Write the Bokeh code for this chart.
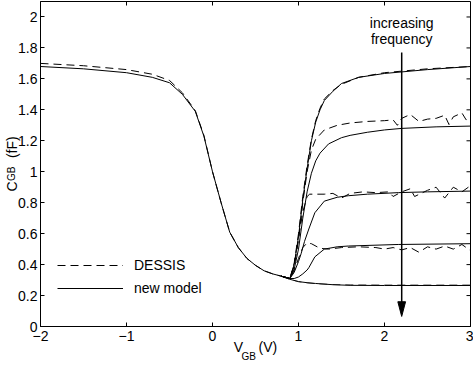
import math
from bokeh.plotting import figure
from bokeh.models import (Legend, LegendItem, Label, Title, FixedTicker,
                          NumeralTickFormatter, Range1d)
from bokeh.embed import file_html
from bokeh.resources import INLINE

# ---------------- data ----------------
# lowest frequency curve
lf_x = [-2.0, -1.5, -1.0, -0.7, -0.5, -0.35, -0.2, -0.1, 0.0, 0.1, 0.2, 0.3, 0.4, 0.5,
        0.6, 0.7, 0.8, 0.9, 0.95, 1.0, 1.05, 1.1, 1.15, 1.2, 1.25, 1.3, 1.4, 1.5, 1.7,
        2.0, 2.5, 3.0]
lf_model = [1.68, 1.665, 1.64, 1.61, 1.575, 1.50, 1.39, 1.23, 1.0, 0.80, 0.61, 0.51, 0.44,
            0.395, 0.36, 0.34, 0.325, 0.31, 0.40, 0.58, 0.82, 1.02, 1.20, 1.32, 1.40, 1.46,
            1.52, 1.57, 1.61, 1.635, 1.66, 1.68]
lf_dessis = [1.70, 1.685, 1.66, 1.63, 1.59, 1.51, 1.395, 1.235, 1.0, 0.80, 0.61, 0.51, 0.44,
             0.395, 0.36, 0.34, 0.325, 0.31, 0.41, 0.60, 0.84, 1.04, 1.21, 1.33, 1.41, 1.47,
             1.525, 1.565, 1.61, 1.64, 1.665, 1.68]

# second curve
c2_x = [0.8, 0.9, 0.95, 1.0, 1.05, 1.1, 1.15, 1.2, 1.25, 1.35, 1.5, 1.6, 1.8, 2.0, 2.2,
        2.6, 3.0]
c2_model = [0.325, 0.31, 0.37, 0.50, 0.70, 0.87, 0.99, 1.07, 1.12, 1.18, 1.22, 1.235, 1.255,
            1.27, 1.28, 1.29, 1.295]
c2d_x = [0.8, 0.9, 0.95, 1.0, 1.05, 1.1, 1.15, 1.2, 1.3, 1.45, 1.6, 1.8, 2.0, 2.1, 2.15,
         2.2, 2.3, 2.4, 2.5, 2.6, 2.7, 2.75, 2.8, 2.9, 2.95, 3.0]
c2_dessis = [0.325, 0.31, 0.39, 0.56, 0.80, 1.00, 1.14, 1.21, 1.27, 1.30, 1.315, 1.325, 1.33,
             1.335, 1.30, 1.345, 1.37, 1.325, 1.34, 1.345, 1.365, 1.305, 1.355, 1.38, 1.335,
             1.355]

# third curve
c3_x = [0.8, 0.9, 0.95, 1.0, 1.03, 1.07, 1.12, 1.19, 1.3, 1.45, 1.58, 1.8, 2.16, 2.5, 3.0]
c3_model = [0.325, 0.31, 0.35, 0.42, 0.47, 0.55, 0.63, 0.735, 0.81, 0.835, 0.845, 0.855,
            0.865, 0.87, 0.875]
c3d_x = [0.8, 0.9, 0.95, 1.0, 1.05, 1.1, 1.13, 1.3, 1.4, 1.5, 1.6, 1.75, 1.9, 2.05, 2.1,
         2.2, 2.3, 2.35, 2.5, 2.6, 2.7, 2.8, 2.9, 3.0]
c3_dessis = [0.325, 0.31, 0.40, 0.57, 0.74, 0.84, 0.855, 0.855, 0.86, 0.83, 0.86, 0.87,
             0.865, 0.87, 0.84, 0.87, 0.89, 0.84, 0.88, 0.90, 0.83, 0.90, 0.87, 0.91]

# fourth curve
c4_x = [0.8, 0.9, 0.95, 1.0, 1.05, 1.1, 1.12, 1.19, 1.3, 1.45, 1.58, 2.16, 3.0]
c4_model = [0.325, 0.31, 0.31, 0.32, 0.34, 0.365, 0.38, 0.45, 0.50, 0.515, 0.52, 0.53, 0.535]
c4d_x = [0.8, 0.9, 0.95, 1.0, 1.05, 1.1, 1.15, 1.25, 1.35, 1.5, 1.7, 1.9, 2.0, 2.1, 2.2,
         2.3, 2.4, 2.5, 2.6, 2.7, 2.8, 2.9, 3.0]
c4_dessis = [0.325, 0.31, 0.36, 0.44, 0.51, 0.54, 0.535, 0.505, 0.50, 0.51, 0.515, 0.51,
             0.50, 0.51, 0.495, 0.51, 0.48, 0.515, 0.50, 0.52, 0.50, 0.53, 0.49]

# highest frequency curve
c5_x = [0.8, 0.9, 1.0, 1.1, 1.2, 1.4, 1.6, 2.0, 3.0]
c5_model = [0.325, 0.305, 0.29, 0.283, 0.278, 0.27, 0.266, 0.265, 0.265]
c5_dessis = [0.325, 0.305, 0.29, 0.282, 0.277, 0.271, 0.269, 0.268, 0.268]

x_ticks = [-2, -1, 0, 1, 2, 3]
y_ticks = [0, 0.2, 0.4, 0.6, 0.8, 1, 1.2, 1.4, 1.6, 1.8, 2]
X_MIN, X_MAX = -2, 3
Y_MIN, Y_MAX = 0, 2.1

ARROW_X = 2.2
ARROW_TOP = 1.77
ARROW_TIP = 0.065

FONT = "Liberation Sans"
NB = "\u00a0"

# ---------------- figure ----------------
p = figure(frame_width=430, frame_height=325, output_backend="svg", toolbar_location=None,
           x_range=Range1d(X_MIN, X_MAX), y_range=Range1d(Y_MIN, Y_MAX),
           min_border_left=40, min_border_right=3, min_border_top=1, min_border_bottom=37,
           background_fill_color="white", border_fill_color="white")
p.grid.visible = False
p.outline_line_color = "black"
p.outline_line_width = 1

for ax in list(p.xaxis) + list(p.yaxis):
    ax.major_tick_in = 4
    ax.major_tick_out = 0
    ax.minor_tick_in = 0
    ax.minor_tick_out = 0
    ax.axis_line_color = "black"
    ax.major_tick_line_color = "black"
    ax.major_label_text_font = FONT
    ax.major_label_text_font_size = "14px"
    ax.major_label_text_color = "black"
    ax.axis_label_text_font = FONT
    ax.axis_label_text_font_style = "normal"
    ax.axis_label_text_color = "black"

p.xaxis.ticker = FixedTicker(ticks=x_ticks)
p.xaxis.major_label_standoff = 4
p.xaxis.major_label_overrides = {-2: "\u22122", -1: "\u22121"}
p.xaxis.axis_label = "V" + NB * 4 + "(V)"
p.xaxis.axis_label_text_font_size = "14px"
p.xaxis.axis_label_standoff = -5

p.yaxis.ticker = FixedTicker(ticks=y_ticks)
p.yaxis.major_label_standoff = 3
p.yaxis.formatter = NumeralTickFormatter(format="0.[0]")
p.yaxis.axis_label = "GB" + NB * 7
p.yaxis.axis_label_text_font_size = "10px"
p.yaxis.axis_label_standoff = -2

# subscript of the x label and main part of the y label
p.add_layout(Title(text="GB", align="left", offset=201, vertical_align="top", standoff=-14,
                   text_font=FONT, text_font_size="10px", text_font_style="normal",
                   text_color="black"), "below")
p.add_layout(Title(text="C" + NB * 6 + "(fF)", align="left", offset=135,
                   vertical_align="bottom", standoff=-33, text_font=FONT,
                   text_font_size="14px", text_font_style="normal", text_color="black"),
             "left")

# inner ticks on the top and right edges
p.ray(x=[X_MAX] * len(y_ticks), y=y_ticks, length=4, length_units="screen",
      angle=math.pi, line_color="black", line_width=1)
p.ray(x=x_ticks, y=[Y_MAX] * len(x_ticks), length=4, length_units="screen",
      angle=-math.pi / 2, line_color="black", line_width=1)

DASH = "8 5"
r_d = p.line(lf_x, lf_dessis, line_color="black", line_width=1, line_dash=DASH)
p.line(c2d_x, c2_dessis, line_color="black", line_width=1, line_dash=DASH)
p.line(c3d_x, c3_dessis, line_color="black", line_width=1, line_dash=DASH)
p.line(c4d_x, c4_dessis, line_color="black", line_width=1, line_dash=DASH)
p.line(c5_x, c5_dessis, line_color="#555555", line_width=1, line_dash=DASH)

r_m = p.line(lf_x, lf_model, line_color="black", line_width=1)
p.line(c2_x, c2_model, line_color="black", line_width=1)
p.line(c3_x, c3_model, line_color="black", line_width=1)
p.line(c4_x, c4_model, line_color="black", line_width=1)
p.line(c5_x, c5_model, line_color="black", line_width=1)

# arrow
p.line([ARROW_X, ARROW_X], [ARROW_TOP, ARROW_TIP + 0.05], line_color="black", line_width=1.5)
p.patch([ARROW_X - 0.045, ARROW_X + 0.045, ARROW_X],
        [ARROW_TIP + 0.095, ARROW_TIP + 0.095, ARROW_TIP], fill_color="black",
        line_color="black")

for txt, yy in (("increasing", 1.96), ("frequency", 1.86)):
    p.add_layout(Label(x=ARROW_X, y=yy, text=txt, text_align="center",
                       text_baseline="alphabetic", text_font=FONT,
                       text_font_size="14px", text_color="black"))

legend = Legend(items=[LegendItem(label="DESSIS", renderers=[r_d]),
                       LegendItem(label="new model", renderers=[r_m])],
                location=(17, 28), orientation="vertical",
                glyph_width=66, glyph_height=20, spacing=3, padding=0, margin=0,
                label_standoff=11, label_text_font=FONT, label_text_font_size="14px",
                label_text_color="black", border_line_color=None,
                background_fill_alpha=0)
p.add_layout(legend, "center")

open("out.html", "w").write(file_html(p, INLINE))
